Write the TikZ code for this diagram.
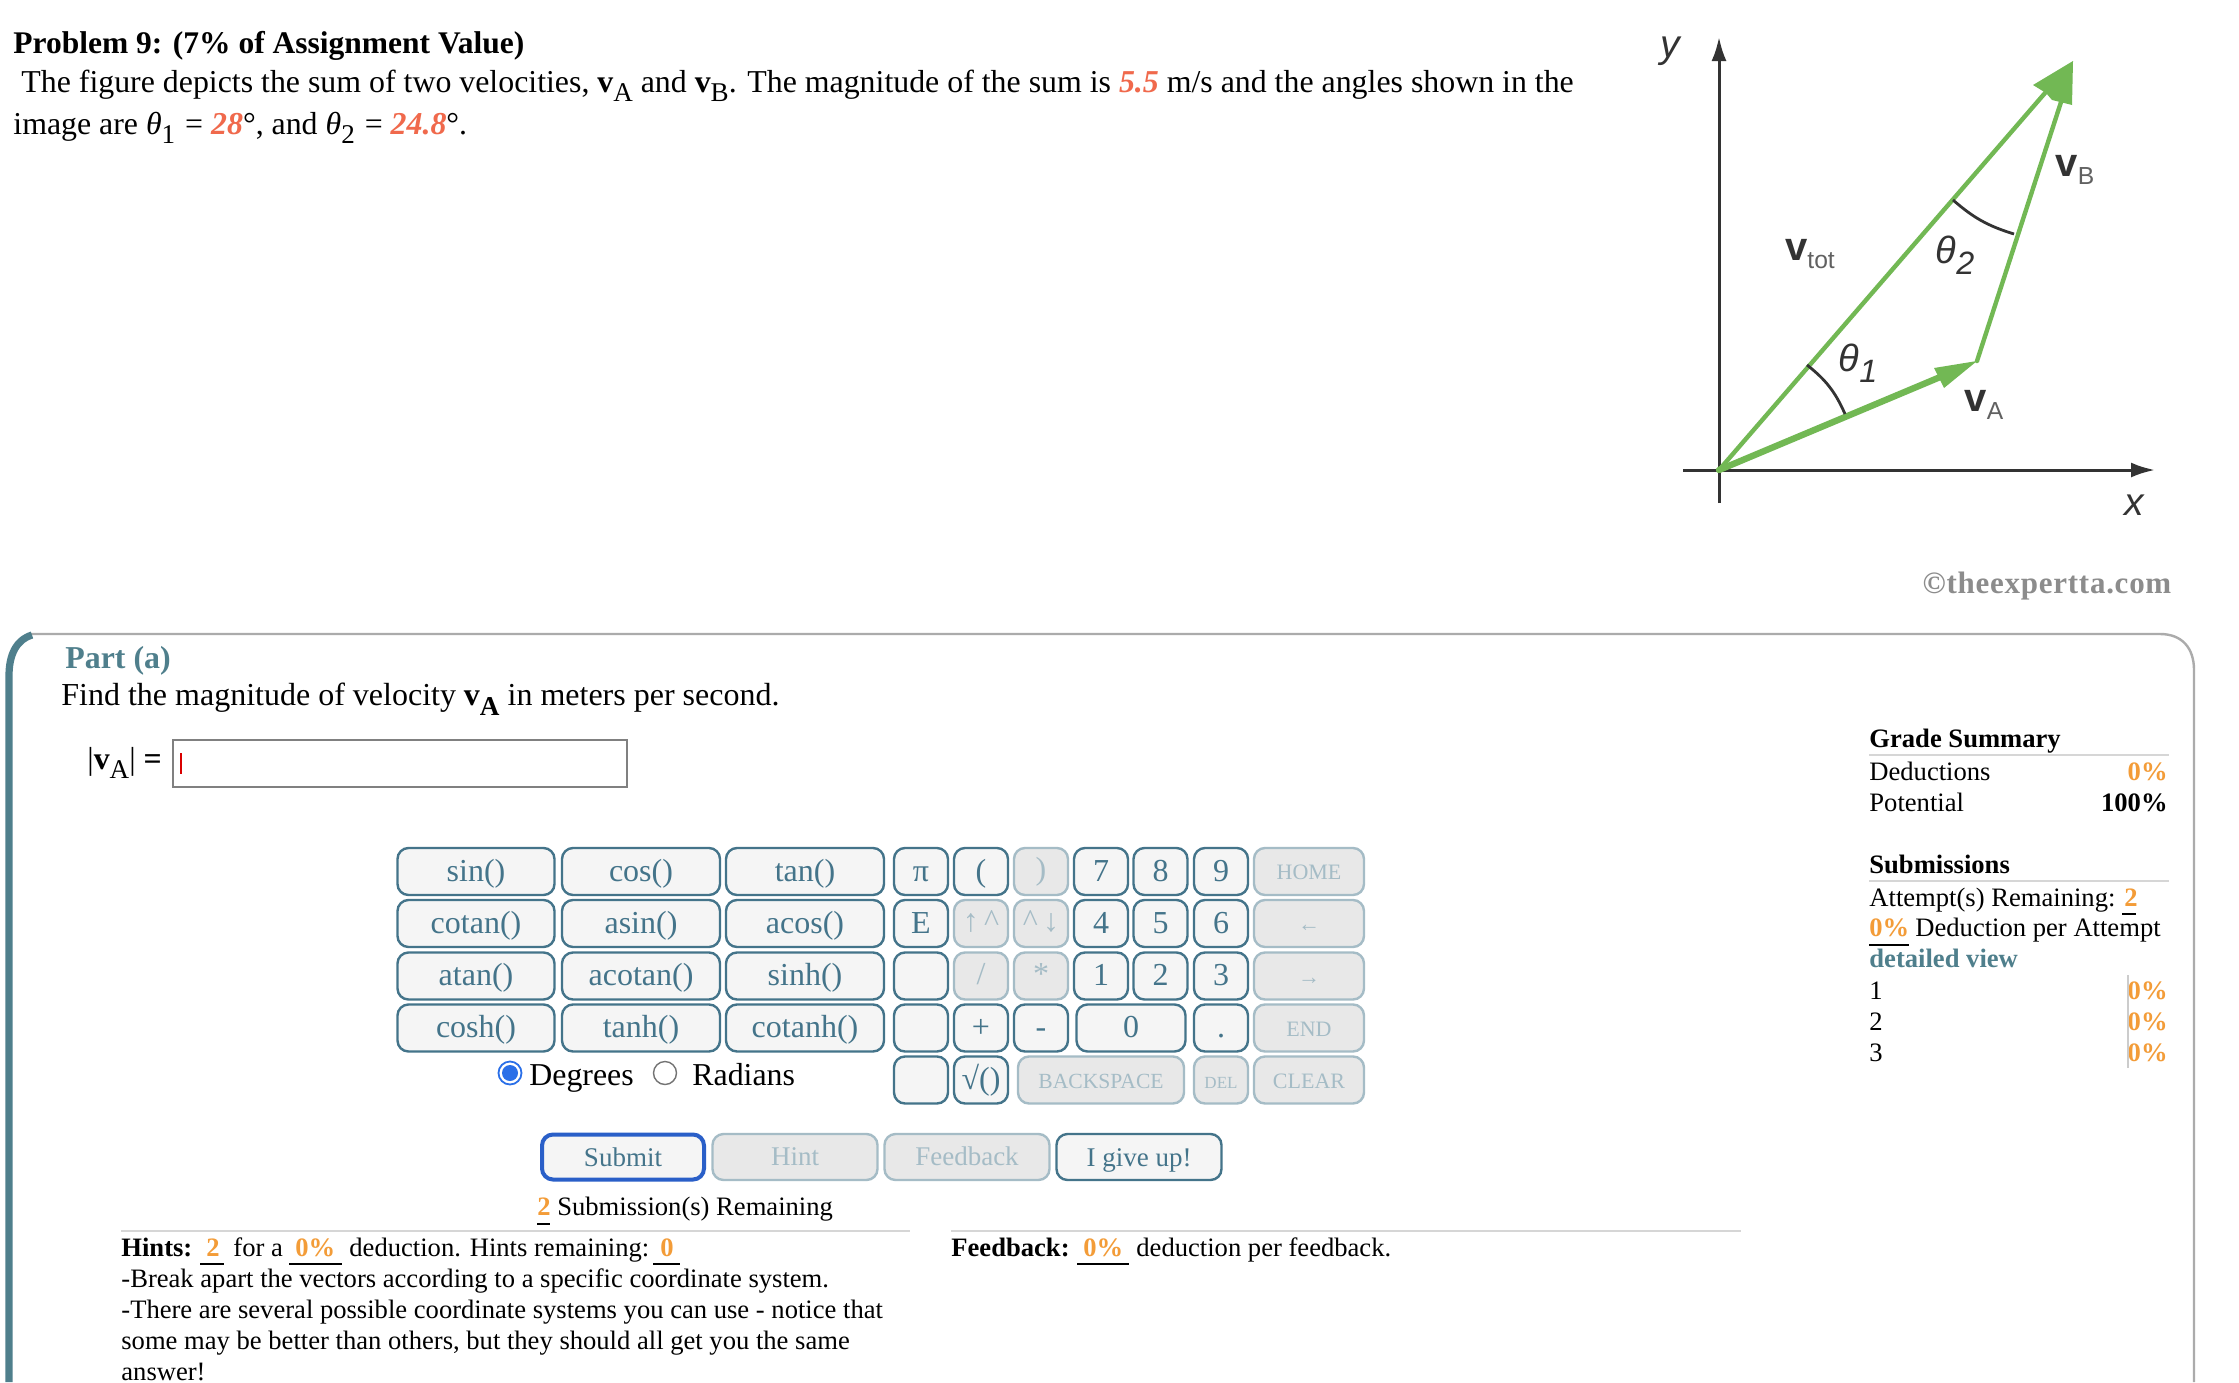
\documentclass[tikz,border=0pt]{standalone}
\usepackage{fontspec}
\usepackage{graphicx}
\setmainfont{Liberation Serif}
\setsansfont{Liberation Sans}
\usetikzlibrary{arrows.meta}
\definecolor{keyblue}{HTML}{44748A}
\definecolor{keyoff}{HTML}{A5BCC6}
\definecolor{partteal}{HTML}{4F7F8C}
\definecolor{gradeorange}{HTML}{F39C38}
\definecolor{valred}{HTML}{F0694C}
\definecolor{vecgreen}{HTML}{72B854}
\definecolor{axisdark}{HTML}{333333}
\definecolor{pickblue}{HTML}{2A6FE8}
\definecolor{ringblue}{HTML}{2A5FC8}
\newcommand{\lowsub}[1]{\raisebox{-.3em}{\scalebox{.85}{#1}}}
\newcommand{\orng}[1]{\textcolor{gradeorange}{\textbf{#1}}}
\newcommand{\redval}[1]{\textcolor{valred}{\textbf{\textit{#1}}}}
\newcommand{\vecsub}[1]{\raisebox{-.2em}{\scalebox{.85}{\textcolor{black!62}{\fontsize{14.5}{16}\selectfont #1}}}}
\tikzset{
  txt/.style={anchor=base west, inner sep=0pt, font=\fontsize{13.3}{15}\selectfont},
  bigtxt/.style={anchor=base west, inner sep=0pt, font=\fontsize{15.93}{18}\selectfont},
  sidetxt/.style={anchor=base west, inner sep=0pt, font=\fontsize{13.3}{15}\selectfont},
  sideval/.style={anchor=base east, inner sep=0pt, font=\fontsize{13.3}{15}\selectfont},
  keyon/.style={draw=keyblue, fill=black!4, text=keyblue, line width=1.2pt, rounded corners=5.5pt, inner sep=0pt, text height=1.16em, text depth=0.18em},
  keyoff/.style={draw=keyoff, fill=black!9, text=keyoff, line width=1.2pt, rounded corners=5.5pt, inner sep=0pt, text height=1em, text depth=0.18em},
  rulegray/.style={draw=black!16, line width=1pt},
  ulink/.style={draw=black, line width=1pt},
  vecline/.style={draw=vecgreen, line width=2.2pt, line cap=round},
  anglearc/.style={draw=axisdark, line width=1.4pt},
  axisline/.style={draw=axisdark, line width=1.5pt, -{Latex[length=12pt,width=7.5pt]}},
  veclabel/.style={inner sep=0pt, font=\sffamily\fontsize{20}{22}\selectfont, text=axisdark},
}
\begin{document}
\begin{tikzpicture}[x=0.5pt,y=-0.5pt]
\useasboundingbox (0,0) rectangle (2239,1382);
\fill[white] (0,0) rectangle (2239,1382);

% problem text
\node[bigtxt] (title) at (13,53) {\fontsize{15.75}{18}\selectfont\textbf{Problem 9: (7\% of Assignment Value)}};
\node[bigtxt] (lineone) at (21,92) {The figure depicts the sum of two velocities, \textbf{v}\lowsub{A} and \textbf{v}\lowsub{B}. The magnitude of the sum is \redval{5.5} m/s and the angles shown in the};
\node[bigtxt] (linetwo) at (13,134) {image are \textit{θ}\lowsub{1}\kern1pt{} = \redval{28}°, and \textit{θ}\lowsub{2}\kern1pt{} = \redval{24.8}°.};

% vector figure
\coordinate (orig) at (1719,470);
\coordinate (tipA) at (1977,361);
\coordinate (tipB) at (2073,61);
\draw[axisline] (1719,503) -- (1719,37);
\draw[axisline] (1683,470) -- (2155,470);
\draw[vecline] (orig) -- (2045,93);
\draw[vecline] (tipA) -- (2062,99);
\draw[vecline, line width=3.2pt] (orig) -- (1945,375);
\fill[vecgreen] (tipB) -- (2033,85) -- (2046,93) -- (2052,100) -- (2072,105) -- cycle;
\fill[vecgreen] (tipA) -- (1934,368) -- (1944,388) -- cycle;
\draw[anglearc] (1807,365) to[bend left=14] (1845,414);
\draw[anglearc] (1953,200) to[bend right=12] (2014,234);
\node[veclabel] (ylab) at (1671,51) {\fontsize{19.5}{21}\selectfont\textit{y}};
\node[veclabel] (xlab) at (2135,505) {\fontsize{19.5}{21}\selectfont\textit{x}};
\node[veclabel] (vtot) at (1810,254) {\textbf{v}\vecsub{tot}};
\node[veclabel] (vbee) at (2075,170) {\textbf{v}\vecsub{B}};
\node[veclabel] (vaay) at (1984,405) {\textbf{v}\vecsub{A}};
\node[veclabel] (thone) at (1858,363) {\fontsize{19}{21}\selectfont\textit{θ}\lowsub{\textit{1}}};
\node[veclabel] (thtwo) at (1955,255) {\fontsize{19}{21}\selectfont\textit{θ}\lowsub{\textit{2}}};
\node[inner sep=0pt, text=black!45, font=\addfontfeatures{LetterSpace=2.4}\bfseries\fontsize{15.5}{17}\selectfont] (mark) at (2047,586) {©theexpertta.com};

% part panel
\draw[draw=black!33, line width=1.2pt] (30,634) -- (2160,634) .. controls (2182,634) and (2194,648) .. (2194,670) -- (2194,1382);
\draw[draw=partteal, line width=3.6pt] (9,1382) -- (9,676) .. controls (9,655) and (16,640) .. (32,635);
\node[bigtxt, text=partteal] (part) at (65,668) {\textbf{Part (a)}};
\node[bigtxt, font=\fontsize{16}{18}\selectfont] (find) at (61,705.5) {Find the magnitude of velocity \textbf{v}\lowsub{\textbf{A}} in meters per second.};
\node[bigtxt] (vabs) at (87,769) {|\textbf{v}\lowsub{A}| \textbf{=}};
\node[draw=black!50, line width=1pt, minimum width=227pt, minimum height=23.5pt, inner sep=0pt] (answer) at (400,763.5) {};
\draw[draw=red!85!black, line width=0.6pt] (181,753) -- (181,774);

% keypad, x/y/width/label
\foreach \kx/\ky/\kw/\kt [count=\ki] in {476/871.5/157/sin(), 641/871.5/158/cos(), 805/871.5/158/tan(),
    476/923.5/157/cotan(), 641/923.5/158/asin(), 805/923.5/158/acos(),
    476/976/157/atan(), 641/976/158/acotan(), 805/976/158/sinh(),
    476/1028/157/cosh(), 641/1028/158/tanh(), 805/1028/158/cotanh(),
    921/871.5/54/π, 981/871.5/54/{(}, 1101/871.5/54/7, 1160.5/871.5/54/8, 1221/871.5/54/9,
    921/923.5/54/E, 1101/923.5/54/4, 1160.5/923.5/54/5, 1221/923.5/54/6,
    921/976/54/{}, 1101/976/54/1, 1160.5/976/54/2, 1221/976/54/3,
    921/1028/54/{}, 981/1028/54/+, 1041/1028/54/-, 1131/1028/109/0, 1221/1028/54/.,
    921/1080/54/{}, 981/1080/54/√()} {
  \node[keyon, font=\fontsize{16}{18}\selectfont, minimum width=\kw*0.5pt, minimum height=23.5pt] (keyon\ki) at (\kx,\ky) {\kt};
}
\foreach \kx/\ky/\kw/\kf/\kt [count=\ki] in {1041/871.5/54/16/{)}, 981/923.5/54/16/↑\,\^{}, 1041/923.5/54/16/\^{}\,↓,
    981/976/54/16/{/}, 1041/976/54/16/*, 1309/871.5/110/11/HOME, 1309/923.5/110/11/←, 1309/976/110/11/→,
    1309/1028/110/11/END, 1101/1080/166/10.8/BACKSPACE, 1221/1080/54/8.5/DEL, 1309/1080/110/11/CLEAR} {
  \node[keyoff, font=\fontsize{\kf}{16}\selectfont, minimum width=\kw*0.5pt, minimum height=23.5pt] (keyoff\ki) at (\kx,\ky) {\kt};
}

% angle mode
\node[circle, draw=pickblue, line width=0.9pt, minimum size=11.5pt, inner sep=0pt] (radiodeg) at (510,1073) {};
\node[circle, fill=pickblue, minimum size=8pt, inner sep=0pt] (radiodot) at (radiodeg) {};
\node[circle, draw=black!55, line width=0.7pt, minimum size=11.5pt, inner sep=0pt] (radiorad) at (665,1073) {};
\node[bigtxt] (degrees) at (529,1085) {Degrees};
\node[bigtxt] (radians) at (692,1085) {Radians};

% submit row
\node[keyon, draw=ringblue, line width=2pt, font=\fontsize{13.5}{15}\selectfont, minimum width=81pt, minimum height=22.5pt] (submit) at (623,1157) {Submit};
\node[keyoff, font=\fontsize{13.5}{15}\selectfont, minimum width=82.5pt, minimum height=23pt] (hintbtn) at (795,1157) {Hint};
\node[keyoff, font=\fontsize{13.5}{15}\selectfont, minimum width=82.5pt, minimum height=23pt] (feedbtn) at (967,1157) {Feedback};
\node[keyon, font=\fontsize{13.5}{15}\selectfont, minimum width=82.5pt, minimum height=23pt] (giveup) at (1139,1157) {I give up!};
\node[txt] (remain) at (537,1215) {\orng{2} Submission(s) Remaining};
\draw[ulink] (537,1224) -- (550,1224);

% hints and feedback
\draw[rulegray] (121,1231) -- (910,1231);
\draw[rulegray] (951,1231) -- (1741,1231);
\node[txt] (hints) at (121,1256) {\textbf{Hints:}};
\node[txt] (hintn) at (206,1256) {\orng{2}};
\node[txt] (hintfor) at (233,1256) {for a};
\node[txt] (hintpc) at (295,1256) {\orng{0\%}};
\node[txt] (hintded) at (349,1256) {deduction. Hints remaining:};
\node[txt] (hintleft) at (660,1256) {\orng{0}};
\foreach \ua/\ub in {200/224, 289/342, 653/680, 1077/1129} {
  \draw[ulink] (\ua,1264) -- (\ub,1264);
}
\node[txt] (hintone) at (121,1287) {-Break apart the vectors according to a specific coordinate system.};
\node[txt] (hinttwo) at (121,1318) {-There are several possible coordinate systems you can use - notice that};
\node[txt] (hintthree) at (121,1349) {some may be better than others, but they should all get you the same};
\node[txt] (hintfour) at (121,1380) {answer!};
\node[txt] (feedback) at (951,1256) {\textbf{Feedback:}};
\node[txt] (feedpc) at (1083,1256) {\orng{0\%}};
\node[txt] (feedded) at (1136,1256) {deduction per feedback.};

% grade summary
\node[sidetxt] (grade) at (1869,747) {\textbf{Grade Summary}};
\draw[rulegray] (1869,755) -- (2169,755);
\node[sidetxt] (deduct) at (1869,780) {Deductions};
\node[sideval] (deductval) at (2168,780) {\orng{0\%}};
\node[sidetxt] (potent) at (1869,811) {Potential};
\node[sideval] (potentval) at (2168,811) {\textbf{100\%}};
\node[sidetxt] (subs) at (1869,873) {\textbf{Submissions}};
\draw[rulegray] (1869,881) -- (2169,881);
\node[sidetxt] (attempts) at (1869,906) {Attempt(s) Remaining: \orng{2}};
\draw[ulink] (2122,914) -- (2136,914);
\node[sidetxt] (perpc) at (1869,936) {\orng{0\%}};
\node[sidetxt] (perded) at (1915,936) {Deduction per Attempt};
\draw[ulink] (1869,945) -- (1909,945);
\node[sidetxt, text=partteal] (detail) at (1869,967) {\textbf{detailed view}};
\foreach \sn/\sy in {1/999, 2/1030, 3/1061} {
  \node[sidetxt] (subn\sn) at (1869,\sy) {\sn};
  \node[sideval] (subv\sn) at (2168,\sy) {\orng{0\%}};
}
\draw[draw=black!20, line width=0.7pt] (2128,975) -- (2128,1068);
\end{tikzpicture}
\end{document}
